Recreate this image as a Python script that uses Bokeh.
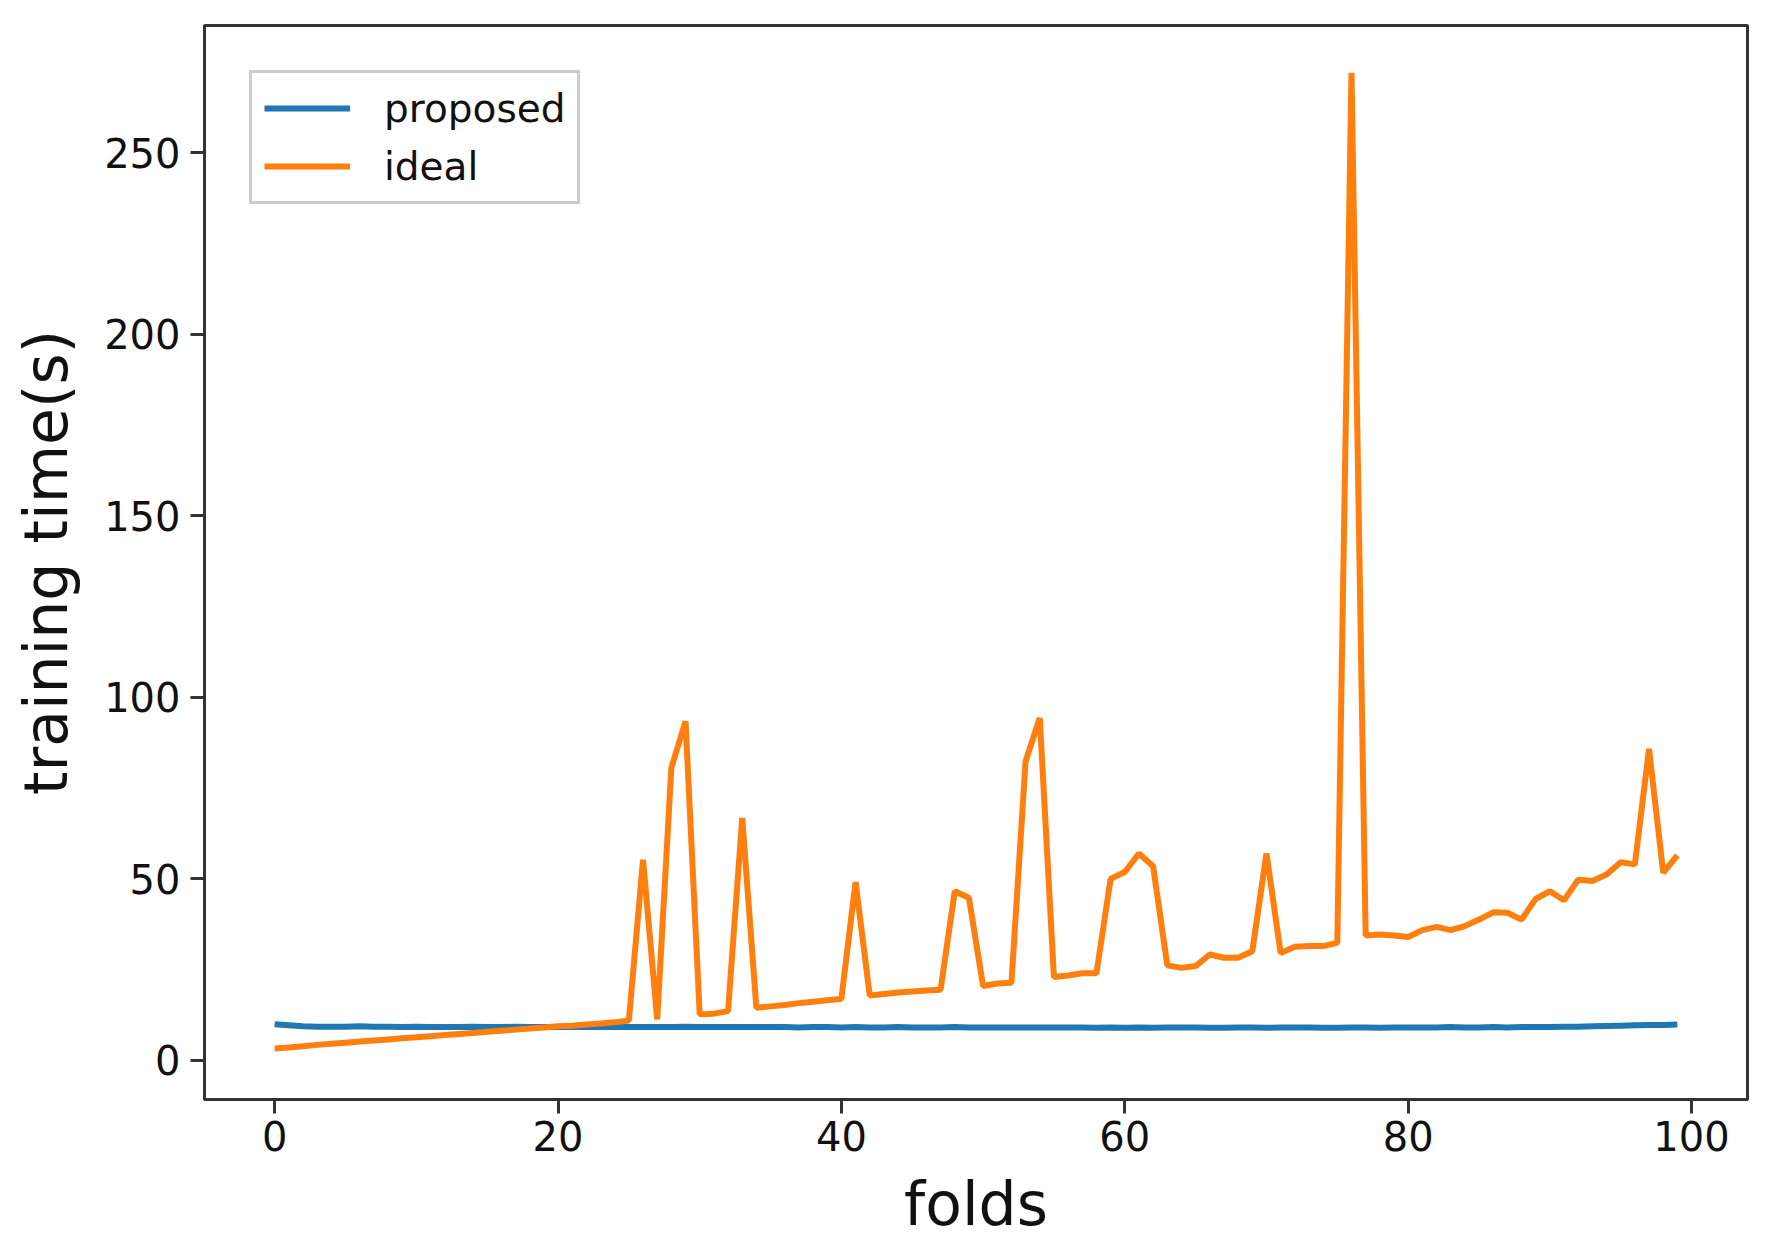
from bokeh.plotting import figure
from bokeh.models import Range1d, FixedTicker, Legend, LegendItem
from bokeh.embed import file_html
from bokeh.resources import INLINE

# ---- data ----
folds = list(range(100))

proposed = [
    10.0, 9.7, 9.4, 9.3, 9.3, 9.3, 9.4, 9.3, 9.3, 9.2,
    9.3, 9.2, 9.2, 9.2, 9.3, 9.2, 9.2, 9.3, 9.2, 9.2,
    9.2, 9.3, 9.2, 9.2, 9.3, 9.2, 9.2, 9.2, 9.2, 9.3,
    9.2, 9.2, 9.2, 9.2, 9.2, 9.2, 9.2, 9.1, 9.2, 9.2,
    9.1, 9.2, 9.1, 9.1, 9.2, 9.1, 9.1, 9.1, 9.2, 9.1,
    9.1, 9.1, 9.1, 9.1, 9.1, 9.1, 9.1, 9.1, 9.0, 9.1,
    9.0, 9.1, 9.0, 9.1, 9.1, 9.1, 9.0, 9.0, 9.1, 9.1,
    9.0, 9.1, 9.1, 9.1, 9.0, 9.0, 9.1, 9.1, 9.0, 9.1,
    9.1, 9.1, 9.1, 9.2, 9.1, 9.1, 9.2, 9.1, 9.2, 9.2,
    9.2, 9.3, 9.3, 9.4, 9.5, 9.6, 9.7, 9.8, 9.8, 9.9,
]

ideal = [
    3.3, 3.6, 3.9, 4.3, 4.6, 4.9, 5.2, 5.5, 5.8, 6.1,
    6.4, 6.7, 7.0, 7.3, 7.6, 7.9, 8.2, 8.5, 8.8, 9.1,
    9.4, 9.6, 9.9, 10.2, 10.5, 11.0,
    55.3, 11.3, 80.6, 93.4, 12.7, 12.9, 13.6, 66.8, 14.5, 14.9,
    15.3, 15.8, 16.2, 16.6, 17.0, 49.1, 17.9, 18.3, 18.7, 19.0,
    19.3, 19.5, 46.6, 44.8, 20.5, 21.2, 21.4, 82.4, 94.3, 23.0,
    23.4, 24.0, 24.0, 50.0, 51.9, 57.0, 53.5, 26.2, 25.5, 26.0,
    29.2, 28.3, 28.3, 30.1, 57.0, 29.6, 31.3, 31.5, 31.5, 32.4,
    272.0, 34.4, 34.7, 34.4, 34.0, 35.9, 36.8, 35.9, 37.0, 38.8,
    40.8, 40.7, 38.8, 44.5, 46.6, 44.1, 49.8, 49.4, 51.2, 54.6,
    54.0, 85.8, 51.7, 56.5,
]

series_names = ["proposed", "ideal"]
series_colors = ["#1f77b4", "#ff7f0e"]
x_ticks = [0, 20, 40, 60, 80, 100]
y_ticks = [0, 50, 100, 150, 200, 250]
x_label = "folds"
y_label = "training time(s)"

FONT = "DejaVu Sans"

p = figure(
    width=1767, height=1244,
    output_backend="svg", toolbar_location=None,
    x_range=Range1d(-4.95, 103.95), y_range=Range1d(-10.74, 285.0),
    min_border_left=204, min_border_right=20,
    min_border_top=25, min_border_bottom=145,
    background_fill_color="white", border_fill_color="white",
)

r1 = p.line(folds, proposed, line_color=series_colors[0], line_width=6)
r2 = p.line(folds, ideal, line_color=series_colors[1], line_width=6)

p.xgrid.visible = False
p.ygrid.visible = False

p.outline_line_color = "#333333"
p.outline_line_width = 3
p.outline_line_alpha = 1.0

p.xaxis.ticker = FixedTicker(ticks=x_ticks)
p.yaxis.ticker = FixedTicker(ticks=y_ticks)

for ax in (p.xaxis[0], p.yaxis[0]):
    ax.axis_line_color = "#333333"
    ax.axis_line_width = 3
    ax.major_tick_line_color = "#333333"
    ax.major_tick_line_width = 3
    ax.major_tick_out = 14
    ax.major_tick_in = 0
    ax.minor_tick_out = 0
    ax.minor_tick_in = 0
    ax.minor_tick_line_color = None
    ax.major_label_text_font = FONT
    ax.major_label_text_font_size = "40px"
    ax.major_label_text_color = "#111111"
    ax.axis_label_text_font = FONT
    ax.axis_label_text_font_size = "60px"
    ax.axis_label_text_font_style = "normal"
    ax.axis_label_text_color = "#111111"

p.xaxis.axis_label = x_label
p.yaxis.axis_label = y_label
p.xaxis.major_label_standoff = 7
p.yaxis.major_label_standoff = 10
p.xaxis.axis_label_standoff = 15
p.yaxis.axis_label_standoff = 20

legend = Legend(
    items=[LegendItem(label=series_names[0], renderers=[r1]),
           LegendItem(label=series_names[1], renderers=[r2])],
    location="top_left",
    margin=45,
    padding=12,
    spacing=12,
    label_height=46,
    glyph_height=46,
    glyph_width=86,
    label_standoff=34,
    label_text_font=FONT,
    label_text_font_size="39px",
    label_text_color="#111111",
    border_line_color="#cccccc",
    border_line_width=3,
    border_line_alpha=1.0,
    background_fill_color="white",
    background_fill_alpha=0.8,
)
p.add_layout(legend)

open("out.html", "w").write(file_html(p, INLINE))
